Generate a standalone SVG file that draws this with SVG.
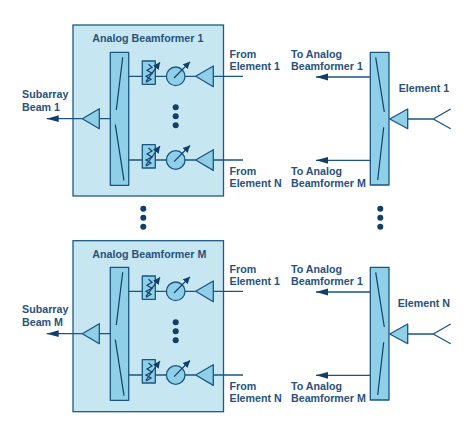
<svg xmlns="http://www.w3.org/2000/svg" width="474" height="434" viewBox="0 0 474 434">
<style>
text{font-family:"Liberation Sans",Arial,sans-serif;font-weight:700;font-size:10.7px;fill:#28527a}
.box{fill:#c6e6f2;stroke:#1f5a82;stroke-width:1.3}
.sh{fill:#8fd0e8;stroke:#1b5580;stroke-width:1.3;stroke-linejoin:round}
.ln{fill:none;stroke:#1b5580;stroke-width:1.3}
.th{fill:none;stroke:#123f68;stroke-width:1.2}
.dot{fill:#123f68}
.ah{fill:#123f68}
</style>
<defs>
<marker id="arr" markerUnits="userSpaceOnUse" markerWidth="13" markerHeight="8" refX="12" refY="4" orient="auto"><path class="ah" d="M0 0.600L12 4L0 7.400Z"/></marker>
<marker id="sm" markerUnits="userSpaceOnUse" markerWidth="8" markerHeight="8" refX="7" refY="4" orient="auto"><path class="ah" d="M0 0.500L7 4L0 7.500Z"/></marker>
<g id="att"><rect class="sh" x="142.300" y="-15.300" width="13" height="23.300"/><path class="th" d="M146 6L151 3L146 0L152 -3L147 -6L152 -9L148.500 -12"/><line class="th" x1="146" y1="5" x2="160" y2="-14" marker-end="url(#sm)"/></g>
<g id="ph"><circle class="sh" cx="175.700" cy="0" r="9.300"/><line class="th" x1="174" y1="1.700" x2="190" y2="-14.500" marker-end="url(#sm)"/></g>
<g id="dots"><circle class="dot" cx="0" cy="0" r="3"/><circle class="dot" cx="0" cy="9" r="3"/><circle class="dot" cx="0" cy="18" r="3"/></g>
</defs>

<g id="beamformer-1">
<rect class="box" x="73" y="25" width="150.500" height="171"/>
<text x="92.300" y="42">Analog Beamformer 1</text>
</g>
<g id="beamformer-m">
<rect class="box" x="73" y="240.700" width="150.500" height="171"/>
<text x="92.300" y="257.500">Analog Beamformer M</text>
</g>

<g id="connectors">
<path class="ln" d="M128.700 76.300H142.300M155.300 76.300H166.400M185 76.300H195.700M213.300 76.300H243M128.700 160H142.300M155.300 160H166.400M185 160H195.700M213.300 160H243M99.300 118.700H110.300"/>
<line class="ln" x1="82.300" y1="118.700" x2="46.700" y2="118.700" marker-end="url(#arr)"/>
<path class="ln" d="M128.700 291.300H142.300M155.300 291.300H166.400M185 291.300H195.700M213.300 291.300H243M128.700 375H142.300M155.300 375H166.400M185 375H195.700M213.300 375H243M99.300 333.700H110.300"/>
<line class="ln" x1="82.300" y1="333.700" x2="46.700" y2="333.700" marker-end="url(#arr)"/>
<line class="ln" x1="370.300" y1="77" x2="316" y2="77" marker-end="url(#arr)"/>
<line class="ln" x1="370.300" y1="160.300" x2="316" y2="160.300" marker-end="url(#arr)"/>
<line class="ln" x1="370.300" y1="292" x2="316" y2="292" marker-end="url(#arr)"/>
<line class="ln" x1="370.300" y1="375.300" x2="316" y2="375.300" marker-end="url(#arr)"/>
<path class="ln" d="M407.700 119H433.300M450.700 109L433.300 119L450.700 128.700M407.700 334H433.300M450.700 324L433.300 334L450.700 343.700"/>
</g>

<g id="switch-1"><rect class="sh" x="110.300" y="52.300" width="18.400" height="133"/><path class="th" d="M122.700 57.300L116.300 110M115.300 124.700L124 180.700"/></g>
<g id="amp-out-1"><path class="sh" d="M82.300 118.700L99.300 108.700V128.700Z"/></g>
<g id="att-1a"><use href="#att" y="76.300"/></g>
<g id="ps-1a"><use href="#ph" y="76.300"/></g>
<g id="amp-1a"><path class="sh" d="M195.700 76.300L213.300 66V86.700Z"/></g>
<g id="att-1n"><use href="#att" y="160"/></g>
<g id="ps-1n"><use href="#ph" y="160"/></g>
<g id="amp-1n"><path class="sh" d="M195.700 160L213.300 149.700V170.400Z"/></g>
<g id="dots-1"><use href="#dots" x="175.700" y="107.300"/></g>

<g id="switch-m"><rect class="sh" x="110.300" y="267.300" width="18.400" height="133"/><path class="th" d="M122.700 272.300L116.300 325M115.300 339.700L124 395.700"/></g>
<g id="amp-out-m"><path class="sh" d="M82.300 333.700L99.300 323.700V343.700Z"/></g>
<g id="att-ma"><use href="#att" y="291.300"/></g>
<g id="ps-ma"><use href="#ph" y="291.300"/></g>
<g id="amp-ma"><path class="sh" d="M195.700 291.300L213.300 281V301.700Z"/></g>
<g id="att-mn"><use href="#att" y="375"/></g>
<g id="ps-mn"><use href="#ph" y="375"/></g>
<g id="amp-mn"><path class="sh" d="M195.700 375L213.300 364.700V385.400Z"/></g>
<g id="dots-m"><use href="#dots" x="175.700" y="322.300"/></g>

<g id="dots-left"><use href="#dots" x="143.300" y="208.700"/></g>
<g id="dots-right"><use href="#dots" x="380.300" y="208.700"/></g>

<g id="splitter-1"><rect class="sh" x="370.300" y="52.300" width="18.700" height="132.700"/><path class="th" d="M375.700 57.300L384.300 112M383.700 127.300L377.700 180"/></g>
<g id="amp-e1"><path class="sh" d="M389.700 119L407.700 109V128.700Z"/></g>
<g id="splitter-n"><rect class="sh" x="370.300" y="267.300" width="18.700" height="132.700"/><path class="th" d="M375.700 272.300L384.300 327M383.700 342.300L377.700 395"/></g>
<g id="amp-en"><path class="sh" d="M389.700 334L407.700 324V343.700Z"/></g>

<g id="labels">
<text x="22" y="98.300">Subarray</text><text x="22" y="111.300">Beam 1</text>
<text x="22" y="313">Subarray</text><text x="22" y="326">Beam M</text>
<text x="229.500" y="57.700">From</text><text x="229.500" y="70.300">Element 1</text>
<text x="229.500" y="174.700">From</text><text x="229.500" y="187.300">Element N</text>
<text x="229.500" y="272.700">From</text><text x="229.500" y="285.300">Element 1</text>
<text x="229.500" y="389.700">From</text><text x="229.500" y="402.300">Element N</text>
<text x="291" y="57.700">To Analog</text><text x="291" y="70.300">Beamformer 1</text>
<text x="291" y="174.700">To Analog</text><text x="291" y="187.300">Beamformer M</text>
<text x="291" y="272.700">To Analog</text><text x="291" y="285.300">Beamformer 1</text>
<text x="291" y="389.700">To Analog</text><text x="291" y="402.300">Beamformer M</text>
<text x="398.700" y="92.300">Element 1</text>
<text x="397.700" y="307.300">Element N</text>
</g>
</svg>
